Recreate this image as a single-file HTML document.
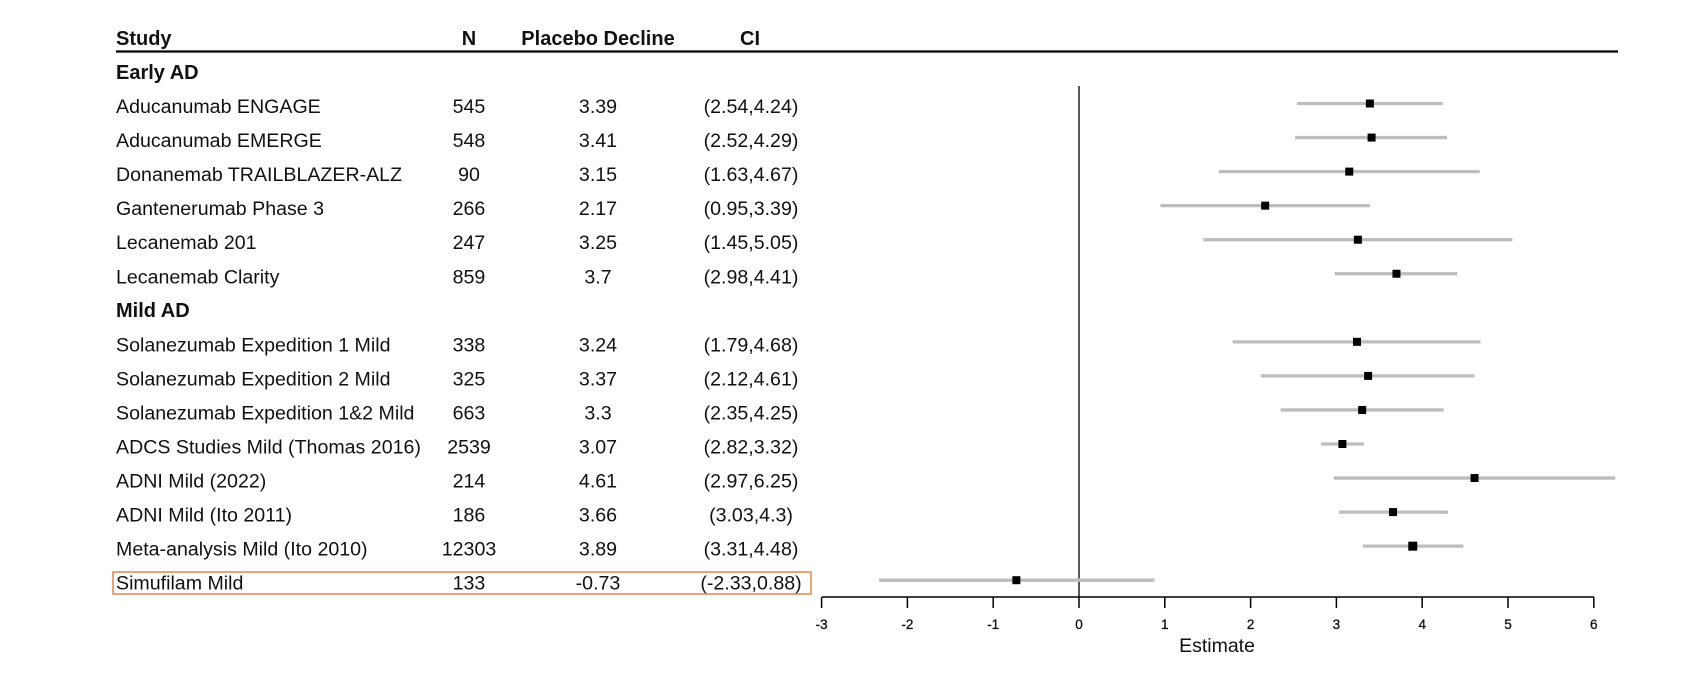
<!DOCTYPE html>
<html><head><meta charset="utf-8"><style>
html,body{margin:0;padding:0;background:#fff}
svg{display:block}
text{font-family:"Liberation Sans",Arial,sans-serif;fill:#111}
</style></head><body>
<svg width="1686" height="684" viewBox="0 0 1686 684" xmlns="http://www.w3.org/2000/svg">
<g font-size="20" font-weight="bold">
<text x="116" y="45">Study</text>
<text x="469" y="45" text-anchor="middle">N</text>
<text x="598" y="45" text-anchor="middle">Placebo Decline</text>
<text x="750" y="45" text-anchor="middle">CI</text>
</g>
<line x1="116" y1="51.5" x2="1618" y2="51.5" stroke="#000" stroke-width="2.2"/>
<text x="116" y="79" font-size="20" font-weight="bold">Early AD</text>
<text x="116" y="317" font-size="20" font-weight="bold">Mild AD</text>
<line x1="1079" y1="86" x2="1079" y2="597" stroke="#000" stroke-width="1.3"/>
<g id="rows" font-size="19.6"></g>
<rect x="113" y="572" width="698" height="22" fill="none" stroke="#e8844a" stroke-width="1.5"/>
<line x1="822" y1="597" x2="1594" y2="597" stroke="#000" stroke-width="1.5"/>
<g id="ticks" font-size="13.5" text-anchor="middle" stroke="#111" stroke-width="0.3"></g>
<text x="1217" y="652" font-size="19.5" text-anchor="middle">Estimate</text>
</svg>
<script>
var d=[["Aducanumab ENGAGE","545","3.39","(2.54,4.24)",3.39,2.54,4.24,0],
["Aducanumab EMERGE","548","3.41","(2.52,4.29)",3.41,2.52,4.29,1],
["Donanemab TRAILBLAZER-ALZ","90","3.15","(1.63,4.67)",3.15,1.63,4.67,2],
["Gantenerumab Phase 3","266","2.17","(0.95,3.39)",2.17,0.95,3.39,3],
["Lecanemab 201","247","3.25","(1.45,5.05)",3.25,1.45,5.05,4],
["Lecanemab Clarity","859","3.7","(2.98,4.41)",3.7,2.98,4.41,5],
["Solanezumab Expedition 1 Mild","338","3.24","(1.79,4.68)",3.24,1.79,4.68,7],
["Solanezumab Expedition 2 Mild","325","3.37","(2.12,4.61)",3.37,2.12,4.61,8],
["Solanezumab Expedition 1&2 Mild","663","3.3","(2.35,4.25)",3.3,2.35,4.25,9],
["ADCS Studies Mild (Thomas 2016)","2539","3.07","(2.82,3.32)",3.07,2.82,3.32,10],
["ADNI Mild (2022)","214","4.61","(2.97,6.25)",4.61,2.97,6.25,11],
["ADNI Mild (Ito 2011)","186","3.66","(3.03,4.3)",3.66,3.03,4.3,12],
["Meta-analysis Mild (Ito 2010)","12303","3.89","(3.31,4.48)",3.89,3.31,4.48,13],
["Simufilam Mild","133","-0.73","(-2.33,0.88)",-0.73,-2.33,0.88,14]];
var NS="http://www.w3.org/2000/svg",g=document.getElementById("rows");
function X(v){return 1079+v*85.8}
function el(t,a,p,txt){var e=document.createElementNS(NS,t);for(var k in a)e.setAttribute(k,a[k]);if(txt!=null)e.textContent=txt;p.appendChild(e);return e}
d.forEach(function(r){var y=103.5+34.05*r[7];var by=y+9.5;
el("text",{x:116,y:by},g,r[0]);
el("text",{x:469,y:by,"text-anchor":"middle"},g,r[1]);
el("text",{x:598,y:by,"text-anchor":"middle"},g,r[2]);
el("text",{x:751,y:by,"text-anchor":"middle"},g,r[3]);
el("line",{x1:X(r[5]),x2:X(r[6]),y1:y,y2:y,stroke:"#bdbdbd","stroke-width":3.3},g);
var s=(r[7]==13)?9:8;
el("rect",{x:X(r[4])-s/2,y:y-s/2,width:s,height:s,fill:"#000"},g);});
var t=document.getElementById("ticks");
for(var v=-3;v<=6;v++){var x=X(v);el("line",{x1:x,x2:x,y1:597,y2:608,stroke:"#000","stroke-width":1.5},t);
el("text",{x:x,y:629},t,String(v));}
</script>
</body></html>
